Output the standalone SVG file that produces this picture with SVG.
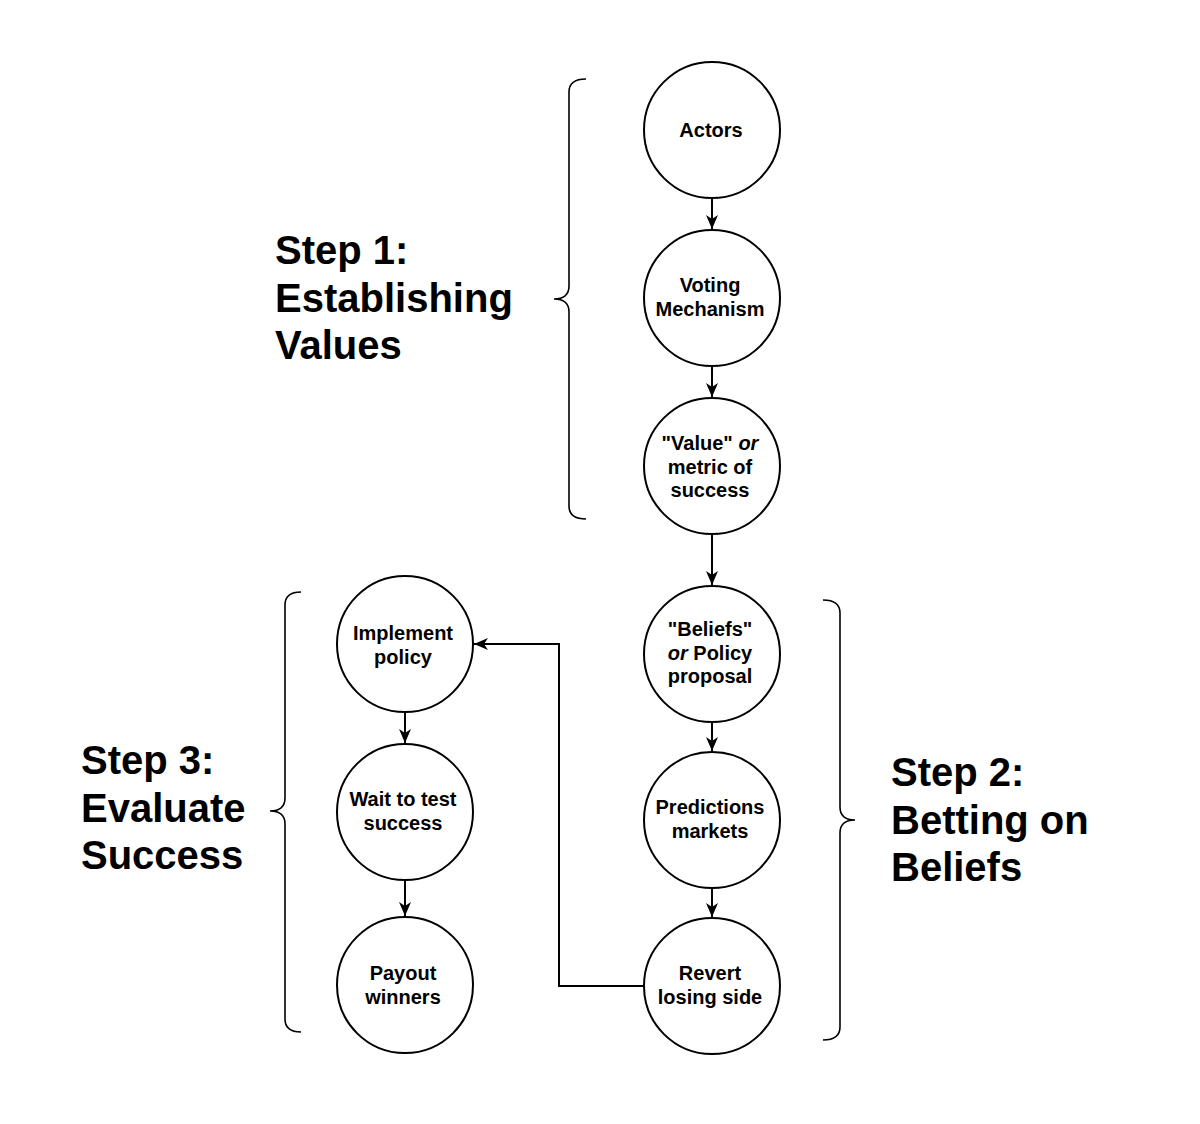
<svg xmlns="http://www.w3.org/2000/svg" width="1200" height="1124" viewBox="0 0 1200 1124">
<defs>
<style>
.node circle{fill:#fff;stroke:#000;stroke-width:2}
.node text{font-family:"Liberation Sans",Arial,sans-serif;font-weight:bold;font-size:20px;text-anchor:middle;fill:#000}
.edge{fill:none;stroke:#000;stroke-width:2}
.brace{fill:none;stroke:#000;stroke-width:1.6}
.step{font-family:"Liberation Sans",Arial,sans-serif;font-weight:bold;font-size:40px;fill:#000}
</style>
<marker id="arr" markerUnits="userSpaceOnUse" viewBox="0 0 14 12" refX="14" refY="6" markerWidth="14" markerHeight="12" orient="auto">
<path d="M0,0 L14,6 L0,12 L4,6 Z" fill="#000"/>
</marker>
</defs>
<rect width="1200" height="1124" fill="#fff"/>
<g id="connectors">
<path class="edge" d="M712,198 L712,229" marker-end="url(#arr)"/>
<path class="edge" d="M712,366 L712,397" marker-end="url(#arr)"/>
<path class="edge" d="M712,534 L712,585" marker-end="url(#arr)"/>
<path class="edge" d="M712,722 L712,751" marker-end="url(#arr)"/>
<path class="edge" d="M712,888 L712,917" marker-end="url(#arr)"/>
<path class="edge" d="M405,712 L405,743" marker-end="url(#arr)"/>
<path class="edge" d="M405,880 L405,916" marker-end="url(#arr)"/>
<path class="edge" d="M644,986 L559,986 L559,644 L474,644" marker-end="url(#arr)"/>
</g>
<g id="brace1"><path class="brace" d="M586,79 Q569,79 569,92 L569,286 Q569,299 554,299 Q569,299 569,312 L569,506 Q569,519 586,519"/></g>
<g id="brace2"><path class="brace" d="M823,600 Q840,600 840,613 L840,807 Q840,820 855,820 Q840,820 840,833 L840,1027 Q840,1040 823,1040"/></g>
<g id="brace3"><path class="brace" d="M301,592 Q285,592 285,605 L285,798 Q285,811 270,811 Q285,811 285,824 L285,1019 Q285,1032 301,1032"/></g>
<g id="step1"><text class="step" x="275" y="264">Step 1:</text><text class="step" x="275" y="312">Establishing</text><text class="step" x="275" y="359">Values</text></g>
<g id="step2"><text class="step" x="891" y="786">Step 2:</text><text class="step" x="891" y="834">Betting on</text><text class="step" x="891" y="881">Beliefs</text></g>
<g id="step3"><text class="step" x="81" y="774">Step 3:</text><text class="step" x="81" y="822">Evaluate</text><text class="step" x="81" y="869">Success</text></g>
<g id="actors" class="node"><circle cx="712" cy="130" r="68"/><text x="711" y="137">Actors</text></g>
<g id="voting" class="node"><circle cx="712" cy="298" r="68"/><text x="710" y="292">Voting</text><text x="710" y="316">Mechanism</text></g>
<g id="value" class="node"><circle cx="712" cy="466" r="68"/><text x="710" y="450">"Value" <tspan font-style="italic">or</tspan></text><text x="710" y="474">metric of</text><text x="710" y="497">success</text></g>
<g id="beliefs" class="node"><circle cx="712" cy="654" r="68"/><text x="710" y="636">"Beliefs"</text><text x="710" y="660"><tspan font-style="italic">or</tspan> Policy</text><text x="710" y="683">proposal</text></g>
<g id="predictions" class="node"><circle cx="712" cy="820" r="68"/><text x="710" y="814">Predictions</text><text x="710" y="838">markets</text></g>
<g id="revert" class="node"><circle cx="712" cy="986" r="68"/><text x="710" y="980">Revert</text><text x="710" y="1004">losing side</text></g>
<g id="implement" class="node"><circle cx="405" cy="644" r="68"/><text x="403" y="640">Implement</text><text x="403" y="664">policy</text></g>
<g id="wait" class="node"><circle cx="405" cy="812" r="68"/><text x="403" y="806">Wait to test</text><text x="403" y="830">success</text></g>
<g id="payout" class="node"><circle cx="405" cy="985" r="68"/><text x="403" y="980">Payout</text><text x="403" y="1004">winners</text></g>
</svg>
